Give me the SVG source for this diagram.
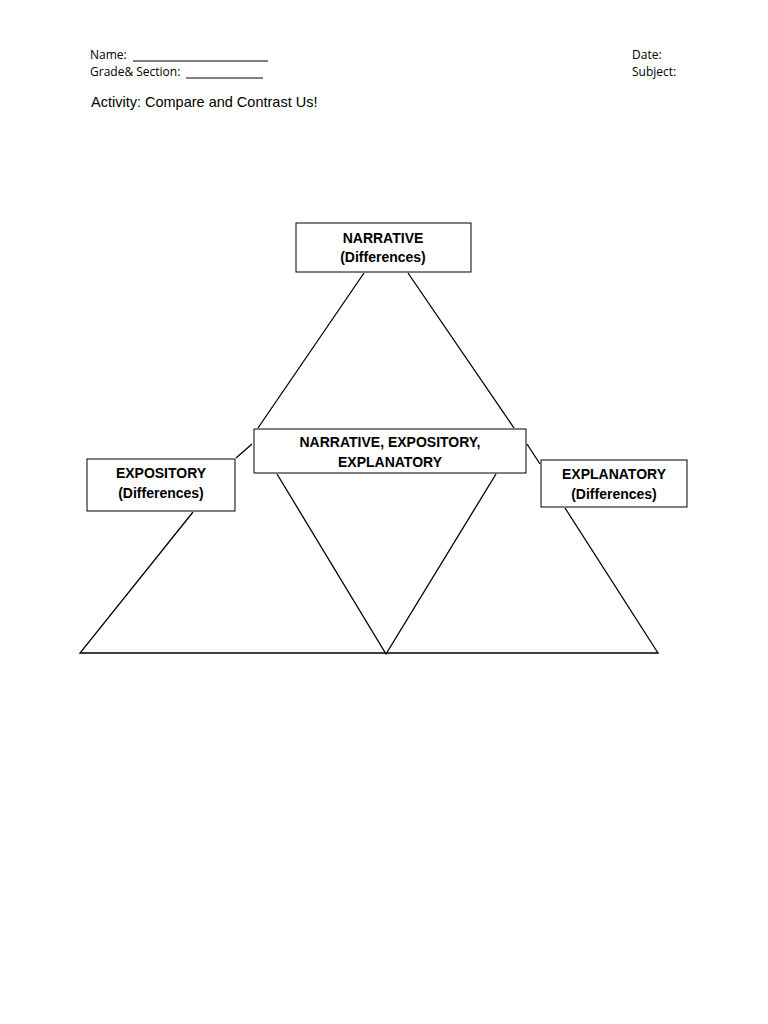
<svg xmlns="http://www.w3.org/2000/svg" width="768" height="1024" viewBox="0 0 768 1024">
<style>
.h{font-family:"Open Sans","Liberation Sans",sans-serif;font-size:12px;fill:#000}
.b{font-family:"Liberation Sans",Arial,sans-serif;font-size:14px;font-weight:bold;fill:#000;text-anchor:middle}
.box{fill:#fff;stroke:#000;stroke-width:1}
.ln{stroke:#000;stroke-width:1.3;fill:none}
</style>
<rect width="768" height="1024" fill="#fff"/>
<text class="h" x="90" y="59">Name:</text>
<line x1="133" y1="61" x2="268" y2="61" stroke="#000" stroke-width="1"/>
<text class="h" x="90" y="76">Grade&amp; Section:</text>
<line x1="186" y1="78" x2="263" y2="78" stroke="#000" stroke-width="1"/>
<text class="h" x="632" y="59">Date:</text>
<text class="h" x="632" y="76">Subject:</text>
<text x="91" y="107" style="font-family:'Liberation Sans',Arial,sans-serif;font-size:14.5px">Activity: Compare and Contrast Us!</text>
<g id="connectors">
<path class="ln" d="M364 273 L258 428 M408 273 L514 428 M236 458 L252 444 M527 444 L540 464 M193 512 L80 653 L658 653 L565 508 M277 474 L386 654 L496 474"/>
</g>
<g id="narrative"><rect class="box" x="296" y="223" width="175" height="49"/>
<text class="b" x="383" y="243">NARRATIVE</text><text class="b" x="383" y="262">(Differences)</text></g>
<g id="center"><rect class="box" x="254" y="429" width="272" height="44"/>
<text class="b" x="390" y="447">NARRATIVE, EXPOSITORY,</text><text class="b" x="390" y="467">EXPLANATORY</text></g>
<g id="expository"><rect class="box" x="87" y="459" width="148" height="52"/>
<text class="b" x="161" y="478">EXPOSITORY</text><text class="b" x="161" y="498">(Differences)</text></g>
<g id="explanatory"><rect class="box" x="541" y="460" width="146" height="47"/>
<text class="b" x="614" y="479">EXPLANATORY</text><text class="b" x="614" y="499">(Differences)</text></g>
</svg>
